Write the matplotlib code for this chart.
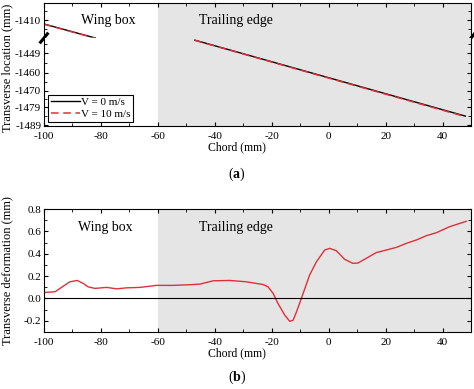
import matplotlib
matplotlib.use("Agg")
import matplotlib.pyplot as plt
from matplotlib.ticker import FixedLocator, MultipleLocator, FormatStrFormatter

plt.rcParams['font.family'] = ['Liberation Serif', 'DejaVu Serif']
plt.rcParams['mathtext.fontset'] = 'custom'
plt.rcParams['mathtext.bf'] = 'Liberation Serif:bold'
plt.rcParams['font.size'] = 8
plt.rcParams['axes.unicode_minus'] = False

# (a) transverse location, two segments (wing box / trailing edge)
wb_x = [-100, -82]
wb_v0 = [-1412.2, -1420.0]
wb_v10 = [-1412.3, -1420.1]
te_x = [-47, 48]
te_v0 = [-1441.8, -1484.0]
te_v10 = [-1441.9, -1484.3]

# (b) transverse deformation
chord = [-99.6, -96.1, -93.8, -90.9, -88.3, -86.2, -84.5, -82.1, -78.0, -74.5,
         -71.0, -66.3, -60.5, -54.6, -48.8, -45.3, -40.6, -34.7, -28.9, -23.1,
         -21.3, -19.5, -17.8, -15.4, -13.7, -12.5, -11.3, -9.6, -6.7, -4.3,
         -1.4, 0.35, 2.7, 5.6, 8.5, 10.3, 13.2, 16.7, 20.2, 23.8,
         27.3, 30.8, 34.3, 37.8, 42.5, 48.3]
deform = [0.054, 0.06, 0.10, 0.149, 0.161, 0.134, 0.104, 0.09, 0.099, 0.086,
          0.095, 0.099, 0.117, 0.117, 0.123, 0.128, 0.158, 0.161, 0.149, 0.125,
          0.104, 0.045, -0.045, -0.15, -0.204, -0.195, -0.12, 0.0, 0.209, 0.328,
          0.433, 0.448, 0.427, 0.35, 0.314, 0.317, 0.359, 0.41, 0.433, 0.457,
          0.493, 0.523, 0.561, 0.588, 0.642, 0.69]

red = '#e0303a'
gray = '#e5e5e5'

fig = plt.figure(figsize=(4.74, 3.89), dpi=100)
ax_t = fig.add_axes([0.0928, 0.9023, 0.9009, 0.09])
ax_b = fig.add_axes([0.0928, 0.6761, 0.9009, 0.2262])
ax2 = fig.add_axes([0.0928, 0.1465, 0.9009, 0.3162])

for ax in (ax_t, ax_b, ax2):
    ax.axvspan(-60, 50, color=gray, lw=0, zorder=0)
    ax.set_xlim(-100, 50)
    ax.xaxis.set_major_locator(MultipleLocator(20))
    ax.xaxis.set_minor_locator(MultipleLocator(10))
    ax.tick_params(which='both', direction='in', top=True, right=True, length=3,
                   labelsize=8, pad=2)
    ax.tick_params(which='minor', length=2)
    ax.tick_params(axis='x', pad=4)

for ax in (ax_t, ax_b):
    ax.plot(wb_x, wb_v0, color='black', lw=1, label='V = 0 m/s')
    ax.plot(wb_x, wb_v10, color=red, lw=1.1, ls=(0, (5, 3)), label='V = 10 m/s')
    ax.plot(te_x, te_v0, color='black', lw=1)
    ax.plot(te_x, te_v10, color=red, lw=1.1, ls=(0, (5, 3)))

ax_t.set_ylim(-1420, -1400.5)
ax_t.yaxis.set_major_locator(FixedLocator([-1410]))
ax_t.yaxis.set_minor_locator(FixedLocator([-1405, -1415]))
ax_t.spines['bottom'].set_visible(False)
ax_t.tick_params(which='both', bottom=False, labelbottom=False)

ax_b.set_ylim(-1489.5, -1440.6)
ax_b.yaxis.set_major_locator(FixedLocator([-1449, -1460, -1470, -1479, -1489]))
ax_b.yaxis.set_minor_locator(FixedLocator([-1444, -1454.5, -1465, -1474.5, -1484]))
ax_b.spines['top'].set_visible(False)
ax_b.tick_params(which='both', top=False)

# break marks
for xb in (0, 1):
    ax_t.plot([xb - 0.008, xb + 0.008], [-0.12, 0.12], transform=ax_t.transAxes,
              color='black', lw=2.2, clip_on=False)

ax_t.text(-77.5, -1410, 'Wing box', ha='center', va='center', fontsize=10)
ax_t.text(-45.6, -1410, 'Trailing edge', ha='left', va='center', fontsize=10)

leg = ax_b.legend(loc='lower left', fontsize=8, frameon=True, fancybox=False,
                  edgecolor='black', framealpha=1, borderpad=0.25,
                  handlelength=2.6, handletextpad=0.1, labelspacing=0.15,
                  borderaxespad=0.4)
leg.get_frame().set_linewidth(0.8)

ax_b.set_xlabel('Chord (mm)', fontsize=8.5, labelpad=0)
ax_b.xaxis.set_label_coords(0.452, -0.175)
fig.text(0.016, (389 - 68) / 389, 'Transverse location (mm)', rotation=90,
         ha='center', va='center', fontsize=9)

# (b)
ax2.plot(chord, deform, color=red, lw=1)
ax2.axhline(0, color='black', lw=0.8)
ax2.set_ylim(-0.3, 0.8)
ax2.yaxis.set_major_locator(MultipleLocator(0.2))
ax2.yaxis.set_minor_locator(MultipleLocator(0.1))
ax2.yaxis.set_major_formatter(FormatStrFormatter('%.1f'))
ax2.text(-78.6, 0.633, 'Wing box', ha='center', va='center', fontsize=10)
ax2.text(-45.6, 0.633, 'Trailing edge', ha='left', va='center', fontsize=10)
ax2.set_xlabel('Chord (mm)', fontsize=8.5, labelpad=0)
ax2.xaxis.set_label_coords(0.452, -0.125)
fig.text(0.016, (389 - 271) / 389, 'Transverse deformation (mm)', rotation=90,
         ha='center', va='center', fontsize=9)

fig.text(0.5, (389 - 174) / 389, r'($\mathbf{a}$)', ha='center', va='center', fontsize=10)
fig.text(0.5, (389 - 377) / 389, r'($\mathbf{b}$)', ha='center', va='center', fontsize=10)

fig.savefig('out.png', dpi=100)
